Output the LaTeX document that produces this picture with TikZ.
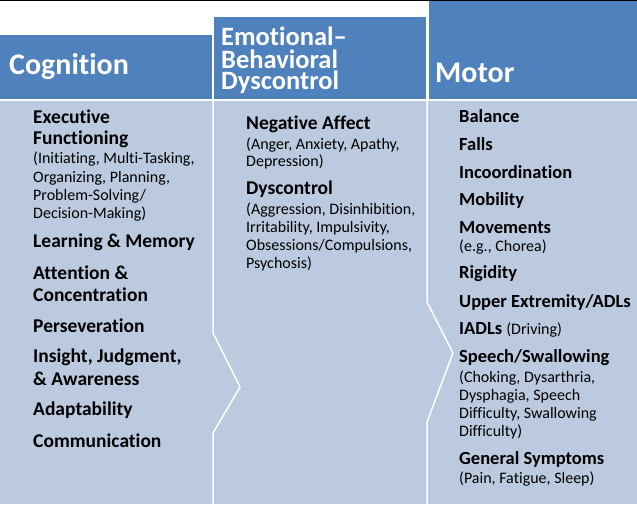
\documentclass[tikz,border=0pt]{standalone}
\usepackage{fontspec}
\setmainfont{Carlito}[Ligatures={NoCommon}]
\definecolor{hdr}{HTML}{4F81BD}
\definecolor{bdy}{HTML}{BBCADF}
\begin{document}
\begin{tikzpicture}[x=1pt,y=-1pt,
 h/.style={anchor=west,inner sep=0pt,font=\fontsize{19.5}{20}\selectfont\bfseries},
 h3/.style={anchor=west,inner sep=0pt,font=\fontsize{18.5}{20}\selectfont\bfseries},
 d/.style={anchor=west,inner sep=0pt,font=\fontsize{16}{17}\selectfont},
 t/.style={anchor=west,inner sep=0pt,text=white,font=\fontsize{30}{22}\selectfont\bfseries},
 t2/.style={anchor=west,inner sep=0pt,text=white,font=\fontsize{26.5}{22}\selectfont\bfseries}]
\useasboundingbox (0,0) rectangle (637,504);
\fill[white] (0,0) rectangle (637,504);
\fill[bdy] (0,100) rectangle (637,504);
\fill[hdr] (0,35) rectangle (212,99);
\fill[hdr] (214,17) rectangle (426,99);
\fill[hdr] (429,0) rectangle (637,99);
\draw[white,line width=1.5pt] (0,100) -- (637,100);
\draw[white,line width=1.5pt] (213,100) -- (213,333) -- (240,387) -- (213,433) -- (213,504);
\draw[white,line width=1.5pt] (427,100) -- (427,302) -- (453,353) -- (427,422) -- (427,504);
\draw[black,line width=0.8pt] (0,0.4) -- (637,0.4);
% titles
\node[t] (c1) at (9,67) {Cognition};
\node[t2] (c2a) at (221,36) {Emotional–};
\node[t2] (c2b) at (221,59) {Behavioral};
\node[t2] (c2c) at (221,82) {Dyscontrol};
\node[t] (c3) at (435,73) {Motor};
% col1
\node[h] (a1) at (33,117) {Executive};
\node[h] (a2) at (33,139) {Functioning};
\node[d] (a3) at (33,159) {(Initiating, Multi-Tasking,};
\node[d] (a4) at (33,178) {Organizing, Planning,};
\node[d] (a5) at (33,196) {Problem-Solving/};
\node[d] (a6) at (33,214) {Decision-Making)};
\node[h] (a7) at (33,242) {Learning \& Memory};
\node[h] (a8) at (33,273) {Attention \&};
\node[h] (a9) at (33,295) {Concentration};
\node[h] (a10) at (33,326) {Perseveration};
\node[h] (a11) at (33,357) {Insight, Judgment,};
\node[h] (a12) at (33,379) {\& Awareness};
\node[h] (a13) at (33,410) {Adaptability};
\node[h] (a14) at (33,441) {Communication};
% col2
\node[h] (b1) at (246,124) {Negative Affect};
\node[d] (b2) at (246,145) {(Anger, Anxiety, Apathy,};
\node[d] (b3) at (246,162) {Depression)};
\node[h] (b4) at (246,189) {Dyscontrol};
\node[d] (b5) at (246,210) {(Aggression, Disinhibition,};
\node[d] (b6) at (246,228) {Irritability, Impulsivity,};
\node[d] (b7) at (246,246) {Obsessions/Compulsions,};
\node[d] (b8) at (246,264) {Psychosis)};
% col3
\node[h3] (m1) at (459,116) {Balance};
\node[h3] (m2) at (459,144) {Falls};
\node[h3] (m3) at (459,172) {Incoordination};
\node[h3] (m4) at (459,200) {Mobility};
\node[h3] (m5) at (459,228) {Movements};
\node[d] (m6) at (459,247) {(e.g., Chorea)};
\node[h3] (m7) at (459,274) {Rigidity};
\node[h3] (m8) at (459,302) {Upper Extremity/ADLs};
\node[h3] (m9) at (459,330) {IADLs \fontsize{16}{17}\selectfont\mdseries(Driving)};
\node[h3] (m10) at (459,358) {Speech/Swallowing};
\node[d] (m11) at (459,378) {(Choking, Dysarthria,};
\node[d] (m12) at (459,396) {Dysphagia, Speech};
\node[d] (m13) at (459,414) {Difficulty, Swallowing};
\node[d] (m14) at (459,432) {Difficulty)};
\node[h3] (m15) at (459,459) {General Symptoms};
\node[d] (m16) at (459,479) {(Pain, Fatigue, Sleep)};
\end{tikzpicture}
\end{document}
